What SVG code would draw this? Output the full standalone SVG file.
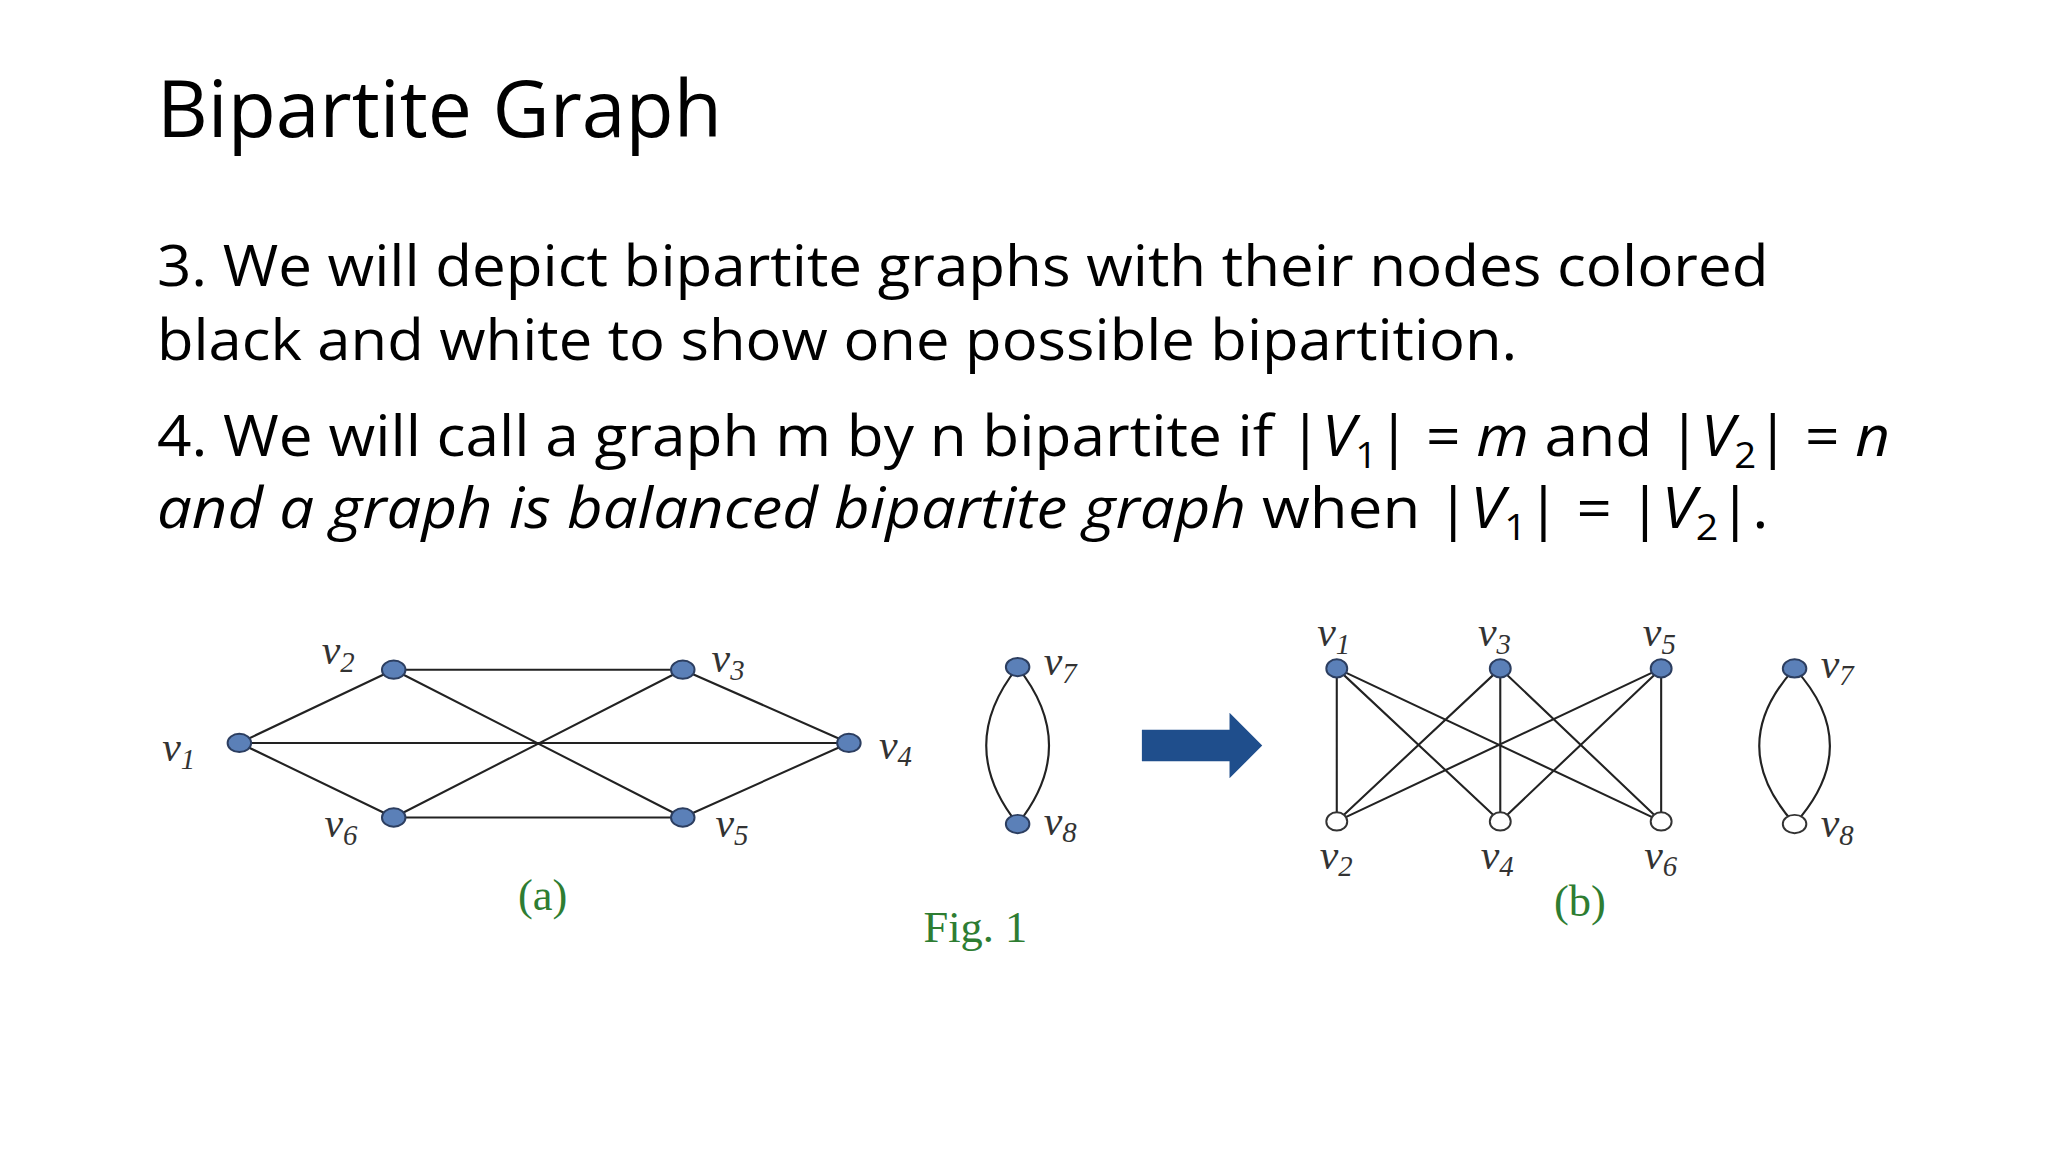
<svg xmlns="http://www.w3.org/2000/svg" width="2048" height="1152" viewBox="0 0 2048 1152">
<style>
.t{font-family:"Open Sans","Noto Sans",sans-serif;fill:#000}
.e{stroke:#222;stroke-width:1.6;fill:none}
.b{fill:#5b80b8;stroke:#2c3e60;stroke-width:1.5}
.w{fill:#fff;stroke:#333;stroke-width:1.5}
.l{font-family:"Liberation Serif",serif;font-style:italic;font-size:32px;fill:#333}
.g{font-family:"Liberation Serif",serif;font-size:34px;fill:#2e7d32}
</style>
<rect width="2048" height="1152" fill="#fff"/>
<g transform="scale(1.308)">
<g id="title"><text class="t" x="120" y="105" font-size="60" textLength="432" lengthAdjust="spacingAndGlyphs">Bipartite Graph</text></g>
<g id="body">
<text class="t" x="120" y="219" font-size="43" textLength="1232" lengthAdjust="spacingAndGlyphs">3. We will depict bipartite graphs with their nodes colored</text>
<text class="t" x="120" y="275" font-size="43" textLength="1040" lengthAdjust="spacingAndGlyphs">black and white to show one possible bipartition.</text>
<text class="t" x="120" y="349" font-size="44" textLength="1325" lengthAdjust="spacingAndGlyphs">4. We will call a graph m by n bipartite if |<tspan font-style="italic">V</tspan><tspan font-size="28" dy="9">1</tspan><tspan dy="-9">| = </tspan><tspan font-style="italic">m</tspan> and |<tspan font-style="italic">V</tspan><tspan font-size="28" dy="9">2</tspan><tspan dy="-9">| = </tspan><tspan font-style="italic">n</tspan></text>
<text class="t" x="120" y="404" font-size="44" textLength="1232" lengthAdjust="spacingAndGlyphs"><tspan font-style="italic">and a graph is balanced bipartite graph</tspan> when |<tspan font-style="italic">V</tspan><tspan font-size="28" dy="9">1</tspan><tspan dy="-9">| = |</tspan><tspan font-style="italic">V</tspan><tspan font-size="28" dy="9">2</tspan><tspan dy="-9">|.</tspan></text>
</g>
<g id="connectors">
<path class="e" d="M301 512H522M301 625H522M183 568H649M183 568L301 512M183 568L301 625M522 512L649 568M522 625L649 568M301 512L522 625M522 512L301 625"/>
<path class="e" d="M778 510Q730 570 778 630M778 510Q826 570 778 630"/>
<path class="e" stroke-width="1.2" d="M1022 511L1022 628M1022 511L1147 628M1022 511L1270 628M1147 511L1022 628M1147 511L1147 628M1147 511L1270 628M1270 511L1022 628M1270 511L1147 628M1270 511L1270 628"/>
<path class="e" d="M1372 511Q1318 570 1372 630M1372 511Q1426 570 1372 630"/>
<path id="arrow" fill="#1f4e8c" d="M873 558H940V545L965 570L940 595V582H873Z"/>
</g>
<g id="v1a"><ellipse class="b" cx="183" cy="568" rx="9" ry="7"/><text class="l" x="124" y="582">v<tspan font-size="22" dy="6">1</tspan></text></g>
<g id="v2a"><ellipse class="b" cx="301" cy="512" rx="9" ry="7"/><text class="l" x="246" y="508">v<tspan font-size="22" dy="6">2</tspan></text></g>
<g id="v3a"><ellipse class="b" cx="522" cy="512" rx="9" ry="7"/><text class="l" x="544" y="514">v<tspan font-size="22" dy="6">3</tspan></text></g>
<g id="v4a"><ellipse class="b" cx="649" cy="568" rx="9" ry="7"/><text class="l" x="672" y="580">v<tspan font-size="22" dy="6">4</tspan></text></g>
<g id="v5a"><ellipse class="b" cx="522" cy="625" rx="9" ry="7"/><text class="l" x="547" y="640">v<tspan font-size="22" dy="6">5</tspan></text></g>
<g id="v6a"><ellipse class="b" cx="301" cy="625" rx="9" ry="7"/><text class="l" x="248" y="640">v<tspan font-size="22" dy="6">6</tspan></text></g>
<g id="v7a"><ellipse class="b" cx="778" cy="510" rx="9" ry="7"/><text class="l" x="798" y="516">v<tspan font-size="22" dy="6">7</tspan></text></g>
<g id="v8a"><ellipse class="b" cx="778" cy="630" rx="9" ry="7"/><text class="l" x="798" y="638">v<tspan font-size="22" dy="6">8</tspan></text></g>
<g id="v1b"><ellipse class="b" cx="1022" cy="511" rx="8" ry="7"/><text class="l" x="1007" y="494">v<tspan font-size="22" dy="6">1</tspan></text></g>
<g id="v3b"><ellipse class="b" cx="1147" cy="511" rx="8" ry="7"/><text class="l" x="1130" y="494">v<tspan font-size="22" dy="6">3</tspan></text></g>
<g id="v5b"><ellipse class="b" cx="1270" cy="511" rx="8" ry="7"/><text class="l" x="1256" y="494">v<tspan font-size="22" dy="6">5</tspan></text></g>
<g id="v7b"><ellipse class="b" cx="1372" cy="511" rx="9" ry="7"/><text class="l" x="1392" y="518">v<tspan font-size="22" dy="6">7</tspan></text></g>
<g id="v2b"><ellipse class="w" cx="1022" cy="628" rx="8" ry="7"/><text class="l" x="1009" y="664">v<tspan font-size="22" dy="6">2</tspan></text></g>
<g id="v4b"><ellipse class="w" cx="1147" cy="628" rx="8" ry="7"/><text class="l" x="1132" y="664">v<tspan font-size="22" dy="6">4</tspan></text></g>
<g id="v6b"><ellipse class="w" cx="1270" cy="628" rx="8" ry="7"/><text class="l" x="1257" y="664">v<tspan font-size="22" dy="6">6</tspan></text></g>
<g id="v8b"><ellipse class="w" cx="1372" cy="630" rx="9" ry="7"/><text class="l" x="1392" y="640">v<tspan font-size="22" dy="6">8</tspan></text></g>
<g id="labels">
<text class="g" x="396" y="696">(a)</text>
<text class="g" x="706" y="720">Fig. 1</text>
<text class="g" x="1188" y="700">(b)</text>
</g>
</g>
</svg>
